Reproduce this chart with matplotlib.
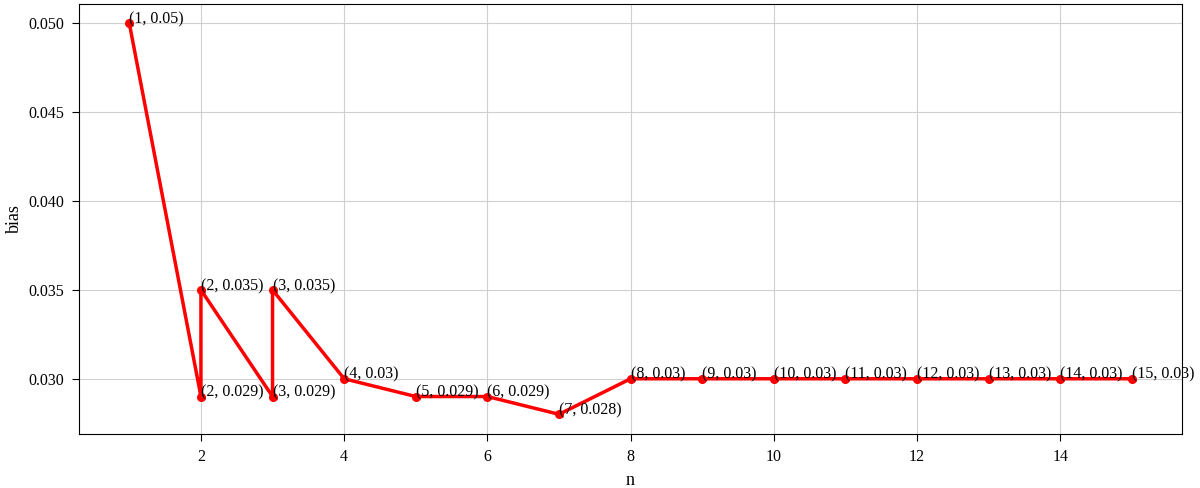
import matplotlib
matplotlib.use('Agg')
import matplotlib.pyplot as plt

# bias per n, in plotted order (n=2 and n=3 each have two runs)
n_vals = [1, 2, 2, 3, 3, 4, 5, 6, 7, 8, 9, 10, 11, 12, 13, 14, 15]
bias_vals = [0.05, 0.029, 0.035, 0.029, 0.035, 0.03, 0.029, 0.029, 0.028,
             0.03, 0.03, 0.03, 0.03, 0.03, 0.03, 0.03, 0.03]

plt.rcParams['font.family'] = ['Liberation Serif', 'DejaVu Serif']

fig, ax = plt.subplots(figsize=(12, 4.88), dpi=100)
ax.plot(n_vals, bias_vals, color='red', linewidth=2.5, marker='o', markersize=5.5)
for n, b in zip(n_vals, bias_vals):
    ax.text(n, b, f'({n}, {b:g})', fontsize=11.5)

ax.grid(True, color='#d0d0d0', linewidth=0.8)
ax.set_axisbelow(True)
ax.set_xlabel('n', fontsize=13, labelpad=5)
ax.set_ylabel('bias', fontsize=13, labelpad=4)
ax.tick_params(labelsize=11.5, pad=6, length=5)
ax.set_yticks([0.030, 0.035, 0.040, 0.045, 0.050])
ax.yaxis.set_major_formatter(matplotlib.ticker.FormatStrFormatter('%.3f'))

fig.subplots_adjust(left=0.066, right=0.985, top=0.992, bottom=0.111)
fig.savefig('out.png')
